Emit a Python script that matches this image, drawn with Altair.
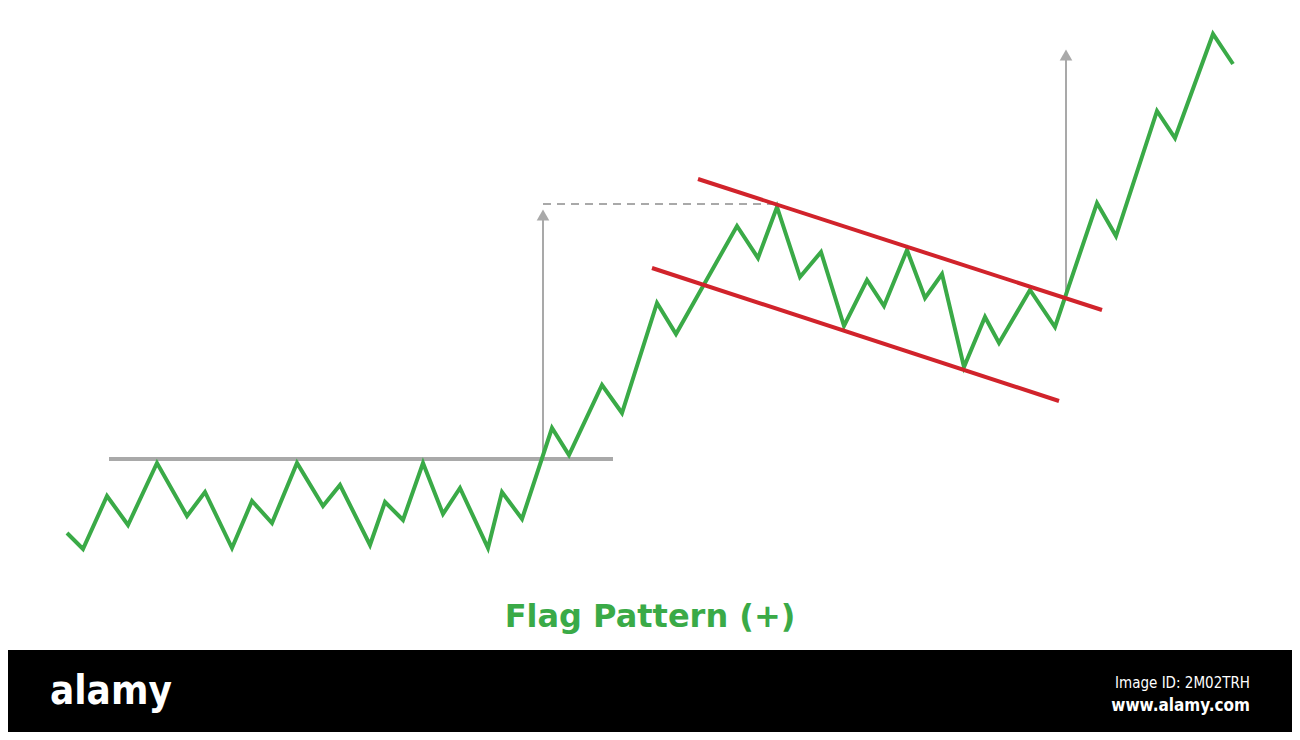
import pandas as pd
import altair as alt

# zigzag price path in page pixels (y grows downward)
price_x = [67, 83, 107, 128, 157, 187, 205, 232, 252, 272, 297, 323, 340, 370, 385,
           403, 423, 443, 460, 488, 502, 522, 552, 569, 602, 622, 657, 676, 737, 758,
           777, 800, 821, 844, 867, 884, 907, 925, 942, 964, 985, 999, 1030, 1055,
           1097, 1116, 1157, 1175, 1213, 1233]
price_y = [533, 549, 496, 525, 463, 516, 492, 548, 501, 523, 463, 506, 485, 545, 502,
           520, 463, 514, 488, 548, 492, 519, 428, 455, 385, 413, 303, 334, 226, 258,
           207, 277, 252, 326, 280, 306, 250, 298, 274, 367, 317, 343, 290, 327,
           203, 236, 111, 138, 34, 64]

# resistance level (gray)
level_x = [109, 613]
level_y = [459, 459]

# flag channel (red)
flag_name = ["upper", "upper", "lower", "lower"]
flag_x = [698, 1102, 652, 1059]
flag_y = [179, 310, 268, 401]

# measured moves (gray arrows)
arrow_name = ["pole", "pole", "target", "target"]
arrow_x = [543, 543, 1066, 1066]
arrow_y = [459, 215, 297, 55]
head_x = [543, 1066]
head_y = [215, 55]

pole_top_x = [543, 775]
pole_top_y = [204, 204]

GREEN = "#3aaa47"
RED = "#d1232b"
GRAY = "#a9a9a9"

xs = alt.Scale(domain=[8, 1292], nice=False, zero=False)
ys = alt.Scale(domain=[8, 732], nice=False, zero=False, reverse=True)


def pos(xf="x", yf="y"):
    return dict(
        x=alt.X(f"{xf}:Q", scale=xs, axis=None),
        y=alt.Y(f"{yf}:Q", scale=ys, axis=None),
    )


price = pd.DataFrame({"x": price_x, "y": price_y, "i": range(len(price_x))})
level = pd.DataFrame({"x": level_x, "y": level_y})
flag = pd.DataFrame({"g": flag_name, "x": flag_x, "y": flag_y})
arrows = pd.DataFrame({"g": arrow_name, "x": arrow_x, "y": arrow_y})
heads = pd.DataFrame({"x": head_x, "y": head_y})
dashed = pd.DataFrame({"x": pole_top_x, "y": pole_top_y})

band = alt.Chart(pd.DataFrame({"x": [0], "x2": [1300], "y": [650], "y2": [760]})).mark_rect(
    color="black"
).encode(
    x=alt.X("x:Q", scale=xs, axis=None), x2="x2",
    y=alt.Y("y:Q", scale=ys, axis=None), y2="y2",
)

level_line = alt.Chart(level).mark_line(color=GRAY, strokeWidth=4).encode(**pos())

dash_line = alt.Chart(dashed).mark_line(
    color=GRAY, strokeWidth=2, strokeDash=[8, 6]
).encode(**pos())

arrow_lines = alt.Chart(arrows).mark_line(color=GRAY, strokeWidth=2).encode(
    detail="g:N", **pos()
)

arrow_heads = alt.Chart(heads).mark_point(
    shape="triangle-up", filled=True, color=GRAY, opacity=1, size=160
).encode(**pos())

price_line = alt.Chart(price).mark_line(
    color=GREEN, strokeWidth=4, strokeJoin="miter"
).encode(order="i:Q", **pos())

flag_lines = alt.Chart(flag).mark_line(color=RED, strokeWidth=4).encode(
    detail="g:N", **pos()
)

title = alt.Chart(pd.DataFrame({"x": [650], "y": [627], "t": ["Flag Pattern (+)"]})).mark_text(
    font="DejaVu Sans", fontSize=32, fontWeight="bold", color=GREEN,
    align="center", baseline="alphabetic"
).encode(text="t:N", **pos())

logo = alt.Chart(pd.DataFrame({"x": [50], "y": [704], "t": ["alamy"]})).mark_text(
    font="DejaVu Sans Condensed", fontSize=40, fontWeight="bold",
    color="white", align="left", baseline="alphabetic"
).encode(text="t:N", **pos())

image_id = alt.Chart(pd.DataFrame({"x": [1250], "y": [688], "t": ["Image ID: 2M02TRH"]})).mark_text(
    font="DejaVu Sans Condensed", fontSize=15,
    color="white", align="right", baseline="alphabetic"
).encode(text="t:N", **pos())

site = alt.Chart(pd.DataFrame({"x": [1250], "y": [711], "t": ["www.alamy.com"]})).mark_text(
    font="DejaVu Sans Condensed", fontSize=17, fontWeight="bold",
    color="white", align="right", baseline="alphabetic"
).encode(text="t:N", **pos())

chart = alt.layer(
    band, level_line, dash_line, arrow_lines, arrow_heads, price_line, flag_lines,
    title, logo, image_id, site
).properties(
    width=1284, height=724, padding=0, autosize="none", background="white"
).configure_view(stroke=None)

chart.save("out.html", embed_options={"renderer": "svg", "actions": False})
